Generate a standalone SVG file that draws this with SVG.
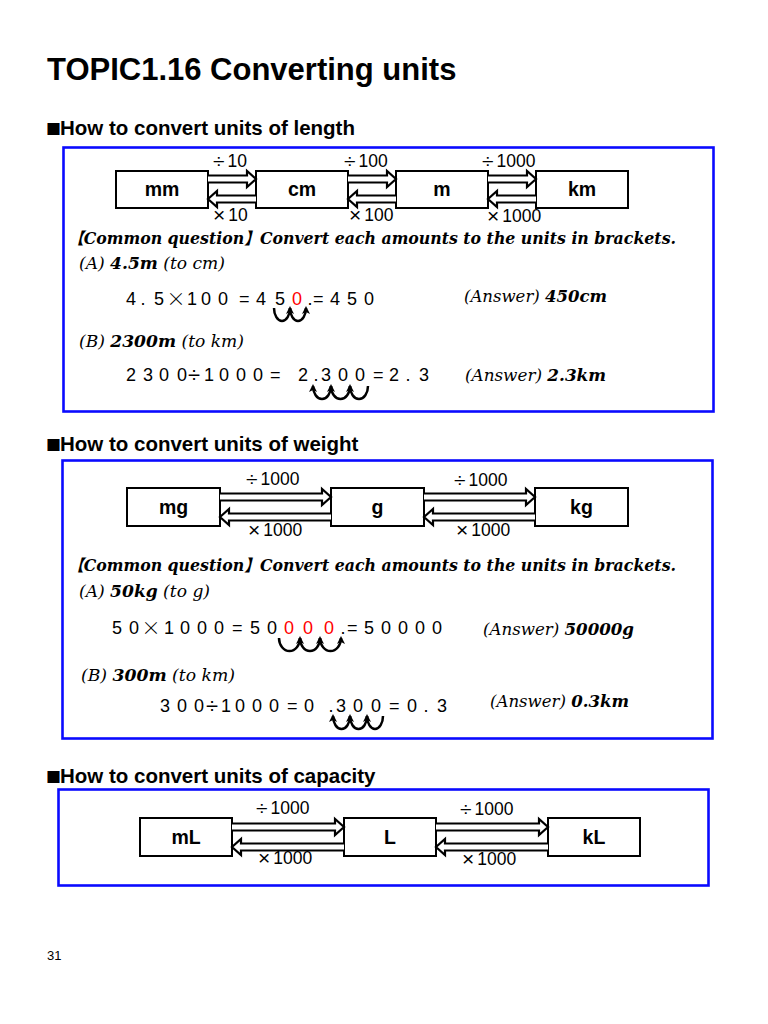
<svg xmlns="http://www.w3.org/2000/svg" width="768" height="1024" viewBox="0 0 768 1024">
<style>
.sans{font-family:"Liberation Sans",Arial,sans-serif;}
.title{font-family:"Liberation Sans",Arial,sans-serif;font-weight:bold;font-size:31px;}
.h{font-family:"Liberation Sans",Arial,sans-serif;font-weight:bold;font-size:20.5px;}
.sq{font-family:"Noto Sans CJK JP",sans-serif;font-size:15px;}
.panel{fill:none;stroke:#0a0aff;stroke-width:2.6;}
.unit rect{fill:#fff;stroke:#000;stroke-width:2;}
.unit text{font-family:"Liberation Sans",Arial,sans-serif;font-weight:bold;font-size:19.5px;text-anchor:middle;}
.arr{fill:#fff;stroke:#000;stroke-width:2.2;stroke-linejoin:miter;}
.lab{font-family:"Liberation Sans",Arial,sans-serif;font-size:17.5px;}
.ls{font-size:21px;}
.eq{font-family:"Liberation Sans",Arial,sans-serif;font-size:18px;}
.sym{font-family:"Noto Sans CJK JP","Liberation Sans",sans-serif;font-weight:300;font-size:19px;}
.div{font-size:22px;}
.red{fill:#ff0000;}
.math{font-family:"DejaVu Serif","Noto Sans CJK JP",serif;font-style:italic;font-size:16px;}
.b{font-weight:bold;}
.curve{fill:none;stroke:#000;stroke-width:2.5;}
</style>
<defs>
<marker id="ah" markerUnits="userSpaceOnUse" markerWidth="9" markerHeight="9" refX="6" refY="4.5" orient="auto">
<path d="M0,0.5 L8,4.5 L0,8.5 L2,4.5 z" fill="#000"/>
</marker>
</defs>
<rect width="768" height="1024" fill="#fff"/>
<text class="title" x="47" y="80">TOPIC1.16 Converting units</text>

<!-- Length section -->
<text class="sq" x="46" y="135">■</text>
<text class="h" x="60" y="135">How to convert units of length</text>
<rect class="panel" x="63.5" y="147.5" width="650" height="264"/>
<g id="mm" class="unit"><rect x="116" y="171" width="92" height="37"/><text x="162" y="196">mm</text></g>
<g id="cm" class="unit"><rect x="256" y="171" width="92" height="37"/><text x="302" y="196">cm</text></g>
<g id="m" class="unit"><rect x="396" y="171" width="92" height="37"/><text x="442" y="196">m</text></g>
<g id="km" class="unit"><rect x="536" y="171" width="92" height="37"/><text x="582" y="196">km</text></g>

<!-- Weight section -->
<text class="sq" x="46" y="451">■</text>
<text class="h" x="60" y="451">How to convert units of weight</text>
<rect class="panel" x="62.5" y="460.5" width="650" height="278"/>
<g id="mg" class="unit"><rect x="127" y="488" width="93" height="38"/><text x="173.5" y="514">mg</text></g>
<g id="g" class="unit"><rect x="331" y="488" width="93" height="38"/><text x="377.5" y="514">g</text></g>
<g id="kg" class="unit"><rect x="535" y="488" width="93" height="38"/><text x="581.5" y="514">kg</text></g>

<!-- Capacity section -->
<text class="sq" x="46" y="783">■</text>
<text class="h" x="60" y="783">How to convert units of capacity</text>
<rect class="panel" x="58.5" y="789.5" width="650" height="96"/>
<g id="mL" class="unit"><rect x="140" y="818" width="92" height="38"/><text x="186" y="844">mL</text></g>
<g id="L" class="unit"><rect x="344" y="818" width="92" height="38"/><text x="390" y="844">L</text></g>
<g id="kL" class="unit"><rect x="548" y="818" width="92" height="38"/><text x="594" y="844">kL</text></g>

<g id="connectors">
<!-- length -->
<path class="arr" d="M208,175.5 H247 V171 L256,179 L247,187 V182.5 H208"/>
<path class="arr" d="M256,195.5 H217 V191 L208,199 L217,207 V202.5 H256"/>
<path class="arr" d="M348,175.5 H387 V171 L396,179 L387,187 V182.5 H348"/>
<path class="arr" d="M396,195.5 H357 V191 L348,199 L357,207 V202.5 H396"/>
<path class="arr" d="M488,175.5 H527 V171 L536,179 L527,187 V182.5 H488"/>
<path class="arr" d="M536,195.5 H497 V191 L488,199 L497,207 V202.5 H536"/>
<!-- weight -->
<path class="arr" d="M220,493.5 H322 V489 L331,497 L322,505 V500.5 H220"/>
<path class="arr" d="M331,513.5 H229 V509 L220,517 L229,525 V520.5 H331"/>
<path class="arr" d="M424,493.5 H526 V489 L535,497 L526,505 V500.5 H424"/>
<path class="arr" d="M535,513.5 H433 V509 L424,517 L433,525 V520.5 H535"/>
<!-- capacity -->
<path class="arr" d="M232,823.5 H335 V819 L344,827 L335,835 V830.5 H232"/>
<path class="arr" d="M344,843.5 H241 V839 L232,847 L241,855 V850.5 H344"/>
<path class="arr" d="M436,823.5 H539 V819 L548,827 L539,835 V830.5 H436"/>
<path class="arr" d="M548,843.5 H445 V839 L436,847 L445,855 V850.5 H548"/>
<!-- decimal point hops -->
<path class="curve" marker-end="url(#ah)" d="M274,308 A8,13 0 0 0 290,308"/>
<path class="curve" marker-end="url(#ah)" d="M290,308 A8,13 0 0 0 306,308"/>
<path class="curve" marker-end="url(#ah)" d="M368,386 A9,13 0 0 1 350,386"/>
<path class="curve" marker-end="url(#ah)" d="M350,386 A9.5,13 0 0 1 331,386"/>
<path class="curve" marker-end="url(#ah)" d="M331,386 A9,13 0 0 1 313,386"/>
<path class="curve" marker-end="url(#ah)" d="M279,638 A10.5,13 0 0 0 300,638"/>
<path class="curve" marker-end="url(#ah)" d="M300,638 A10,13 0 0 0 320,638"/>
<path class="curve" marker-end="url(#ah)" d="M320,638 A10.5,13 0 0 0 341,638"/>
<path class="curve" marker-end="url(#ah)" d="M383,716 A8,13 0 0 1 367,716"/>
<path class="curve" marker-end="url(#ah)" d="M367,716 A8.5,13 0 0 1 350,716"/>
<path class="curve" marker-end="url(#ah)" d="M350,716 A8.5,13 0 0 1 333,716"/>
</g>

<!-- connector labels -->
<g id="labels">
<text class="lab" x="213" y="167"><tspan class="ls" dy="1">÷</tspan><tspan dx="3" dy="-1">10</tspan></text>
<text class="lab" x="213" y="221"><tspan class="ls" dy="1">×</tspan><tspan dx="3" dy="-1">10</tspan></text>
<text class="lab" x="344" y="167"><tspan class="ls" dy="1">÷</tspan><tspan dx="3" dy="-1">100</tspan></text>
<text class="lab" x="349" y="221"><tspan class="ls" dy="1">×</tspan><tspan dx="3" dy="-1">100</tspan></text>
<text class="lab" x="482" y="167"><tspan class="ls" dy="1">÷</tspan><tspan dx="3" dy="-1">1000</tspan></text>
<text class="lab" x="487" y="222"><tspan class="ls" dy="1">×</tspan><tspan dx="3" dy="-1">1000</tspan></text>
<text class="lab" x="246" y="485"><tspan class="ls" dy="1">÷</tspan><tspan dx="3" dy="-1">1000</tspan></text>
<text class="lab" x="248" y="536"><tspan class="ls" dy="1">×</tspan><tspan dx="3" dy="-1">1000</tspan></text>
<text class="lab" x="454" y="486"><tspan class="ls" dy="1">÷</tspan><tspan dx="3" dy="-1">1000</tspan></text>
<text class="lab" x="456" y="536"><tspan class="ls" dy="1">×</tspan><tspan dx="3" dy="-1">1000</tspan></text>
<text class="lab" x="256" y="814"><tspan class="ls" dy="1">÷</tspan><tspan dx="3" dy="-1">1000</tspan></text>
<text class="lab" x="258" y="864"><tspan class="ls" dy="1">×</tspan><tspan dx="3" dy="-1">1000</tspan></text>
<text class="lab" x="460" y="815"><tspan class="ls" dy="1">÷</tspan><tspan dx="3" dy="-1">1000</tspan></text>
<text class="lab" x="462" y="865"><tspan class="ls" dy="1">×</tspan><tspan dx="3" dy="-1">1000</tspan></text>
</g>

<!-- length questions -->
<text class="math b" x="68" y="244" textLength="608" lengthAdjust="spacingAndGlyphs">【Common question】Convert each amounts to the units in brackets.</text>
<text class="math" x="79" y="269" textLength="146" lengthAdjust="spacingAndGlyphs">(A) <tspan class="b">4.5m</tspan> (to cm)</text>
<text class="eq" y="305"><tspan x="126 140.5 154">4.5</tspan><tspan class="sym" x="166.5" y="306">×</tspan><tspan x="187 201 218 239 256 275" y="305">100=45</tspan><tspan class="red" x="292">0</tspan><tspan x="307.5 313 330 347 364">.=450</tspan></text>
<text class="math" x="464" y="302" textLength="143" lengthAdjust="spacingAndGlyphs">(Answer) <tspan class="b">450cm</tspan></text>
<text class="math" x="79" y="347" textLength="165" lengthAdjust="spacingAndGlyphs">(B) <tspan class="b">2300m</tspan> (to km)</text>
<text class="eq" y="381"><tspan x="126 143 159 177">2300</tspan><tspan class="div" x="188" y="382">÷</tspan><tspan x="204 219 236 253 270 298 313.5 321 338 355 373 389 405.5 419" y="381">1000=2.300=2.3</tspan></text>
<text class="math" x="465" y="381" textLength="141" lengthAdjust="spacingAndGlyphs">(Answer) <tspan class="b">2.3km</tspan></text>

<!-- weight questions -->
<text class="math b" x="68" y="571" textLength="608" lengthAdjust="spacingAndGlyphs">【Common question】Convert each amounts to the units in brackets.</text>
<text class="math" x="79" y="597" textLength="131" lengthAdjust="spacingAndGlyphs">(A) <tspan class="b">50kg</tspan> (to g)</text>
<text class="eq" y="634"><tspan x="112 129">50</tspan><tspan class="sym" x="141.5" y="635">×</tspan><tspan x="164 180 197 214 232 250 267" y="634">1000=50</tspan><tspan class="red" x="284 303 324">000</tspan><tspan x="340.5 347 364 381 398 415 432">.=50000</tspan></text>
<text class="math" x="483" y="635" textLength="151" lengthAdjust="spacingAndGlyphs">(Answer) <tspan class="b">50000g</tspan></text>
<text class="math" x="81" y="681" textLength="154" lengthAdjust="spacingAndGlyphs">(B) <tspan class="b">300m</tspan> (to km)</text>
<text class="eq" y="712"><tspan x="160 177 194">300</tspan><tspan class="div" x="206" y="713">÷</tspan><tspan x="221 235 252 269 287 304 328.5 336 353 371 389 407 423.5 437" y="712">1000=0.300=0.3</tspan></text>
<text class="math" x="490" y="707" textLength="139" lengthAdjust="spacingAndGlyphs">(Answer) <tspan class="b">0.3km</tspan></text>

<text class="sans" x="47" y="960" font-size="13">31</text>
</svg>
